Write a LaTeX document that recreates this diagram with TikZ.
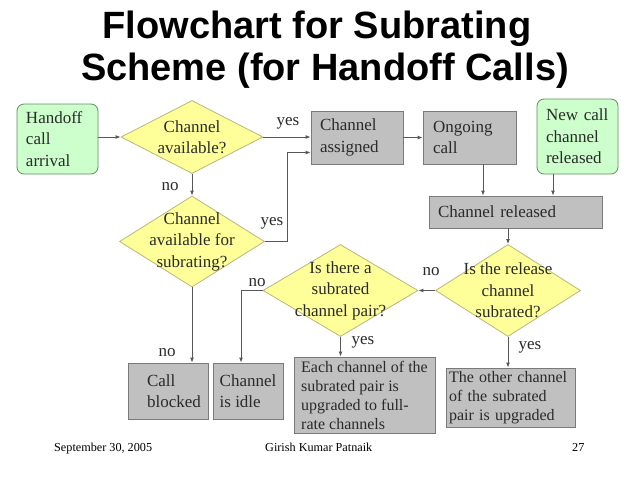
\documentclass[tikz,border=0pt]{standalone}
\usepackage{fontspec}
\setmainfont{Liberation Serif}
\newfontfamily\titlefont{Liberation Sans}
\usetikzlibrary{shapes.geometric,arrows.meta}
\definecolor{lgrn}{HTML}{CCFFCC}
\definecolor{dgrn}{HTML}{5E8F5E}
\definecolor{gfill}{HTML}{C0C0C0}
\definecolor{gbord}{HTML}{7A7A7A}
\definecolor{dfill}{HTML}{FFFF99}
\definecolor{dbord}{HTML}{B8B87A}
\definecolor{lcol}{HTML}{585858}
\definecolor{tcol}{HTML}{2A2A2A}
\newcommand{\bigfs}{\fontsize{17}{21.5}\selectfont}
\newcommand{\smallfs}{\fontsize{16}{19}\selectfont}
\begin{document}
\begin{tikzpicture}[x=1pt,y=-1pt,
  startbox/.style={draw=dgrn, fill=lgrn, rounded corners=7pt, line width=0.8pt, inner ysep=0pt, align=left, font=\bigfs, text=tcol},
  procbox/.style={draw=gbord, fill=gfill, line width=0.8pt, inner ysep=0pt, align=left, font=\bigfs, text=tcol},
  dia/.style={diamond, draw=dbord, fill=dfill, line width=0.8pt, inner sep=0pt},
  dtext/.style={align=center, font=\bigfs, text=tcol},
  lab/.style={font=\bigfs, text=tcol, inner sep=0pt},
  conn/.style={draw=lcol, line width=0.9pt, -{Latex[length=5pt,width=4pt]}},
  foot/.style={font=\fontsize{12.2}{14}\selectfont, anchor=base west, inner sep=0pt},
  ttl/.style={anchor=base, inner sep=0pt, font=\titlefont\bfseries\fontsize{38}{42}\selectfont}
]
\fill[white] (0,0) rectangle (638,479);
\useasboundingbox (0,0) rectangle (638,479);

% title
\node[ttl] (t1) at (317,38) {Flowchart for Subrating};
\node[ttl] (t2) at (325,80) {Scheme (for Handoff Calls)};

% top row
\node[startbox, minimum width=81pt, minimum height=70pt, text width=63pt, inner xsep=9pt] (hand) at (57.5,139) {Handoff\\call\\arrival};
\node[dia, minimum width=142pt, minimum height=73pt, label={[dtext]center:Channel\\available?}] (d1) at (192,137) {};
\node[procbox, minimum width=92pt, minimum height=53pt, text width=74pt, inner xsep=9pt] (ca) at (357,137.5) {Channel\\assigned};
\node[procbox, minimum width=93pt, minimum height=53pt, text width=73pt, inner xsep=10pt] (og) at (469.5,137.5) {Ongoing\\call};
\node[startbox, minimum width=81pt, minimum height=75pt, text width=63pt, inner xsep=9pt] (nc) at (577.5,136.5) {New call\\channel\\released};
\node[procbox, minimum width=173pt, minimum height=32pt, text width=155pt, inner xsep=9pt] (cr) at (515.5,212) {Channel released};

% middle
\node[dia, minimum width=145pt, minimum height=91pt, label={[dtext]center:Channel\\available for\\subrating?}] (d2) at (192,241.5) {};
\node[dia, minimum width=145pt, minimum height=92pt, label={[dtext]center:Is the release\\channel\\subrated?}] (d3) at (508,290.5) {};
\node[dia, minimum width=155pt, minimum height=92pt, label={[dtext]center:Is there a\\subrated\\channel pair?}] (d4) at (340.5,290.5) {};

% bottom row
\node[procbox, minimum width=80pt, minimum height=56pt] (cb) at (168,391) {\hspace*{12pt}Call\\\hspace*{12pt}blocked};
\node[procbox, minimum width=70pt, minimum height=56pt] (ci) at (248,391) {Channel\\is idle};
\node[procbox, minimum width=141pt, minimum height=76pt, font=\smallfs] (ec) at (364.5,395) {Each channel of the\\subrated pair is\\upgraded to full-\\rate channels};
\node[procbox, minimum width=129pt, minimum height=59pt, text width=123pt, inner xsep=3pt, font=\smallfs] (oc) at (510.5,397.5) {The other channel\\of the subrated\\pair is upgraded};

% connectors
\draw[conn] (hand.east |- d1.west) -- (d1.west);
\draw[conn] (d1.east) -- (ca.west |- d1.east);
\draw[conn] (d2.east) -- ++(23,0) |- ([yshift=-15pt]ca.west);
\draw[conn] (ca.east) -- (og.west);
\draw[conn] ([xshift=13.5pt]og.south) -- ([xshift=13.5pt]og.south |- cr.north);
\draw[conn] ([xshift=-24.5pt]nc.south) -- ([xshift=-24.5pt]nc.south |- cr.north);
\draw[conn] (d3.north |- cr.south) -- (d3.north);
\draw[conn] (d3.west) -- (d4.east);
\draw[conn] (d4.south) -- (d4.south |- ec.north);
\draw[conn] (d4.west) -| ([xshift=-7pt]ci.north);
\draw[conn] (d1.south) -- (d2.north);
\draw[conn] (d2.south) -- (d2.south |- cb.north);
\draw[conn] (d3.south) -- (d3.south |- oc.north);

% labels
\node[lab] (l1) at (288,123) {yes};
\node[lab] (l2) at (170,187) {no};
\node[lab] (l3) at (272,223) {yes};
\node[lab] (l4) at (167,353) {no};
\node[lab] (l5) at (257,283) {no};
\node[lab] (l6) at (363,342) {yes};
\node[lab] (l7) at (431,272) {no};
\node[lab] (l8) at (530,347) {yes};

% footer
\node[foot] (f1) at (54,451) {September 30, 2005};
\node[foot] (f2) at (265,451) {Girish Kumar Patnaik};
\node[foot] (f3) at (572,451) {27};
\end{tikzpicture}
\end{document}
